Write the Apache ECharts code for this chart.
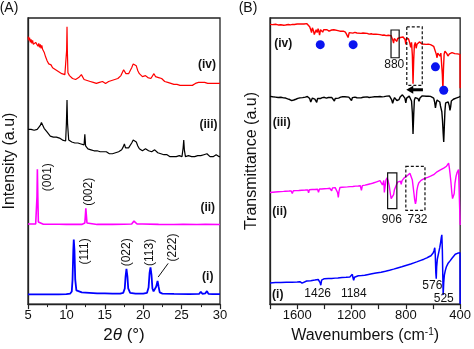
<!DOCTYPE html>
<html><head><meta charset="utf-8">
<script src="https://cdn.jsdelivr.net/npm/echarts@6/dist/echarts.min.js"></script>
<style>html,body{margin:0;padding:0;background:#fff}#c{width:474px;height:349px}</style>
</head><body><div id="c"></div>
<script>
const FONT = 'Arial, "Liberation Sans", sans-serif';

// ---------- Panel A: XRD (2theta in degrees, intensity a.u.) ----------
const xrdTicks = [5, 10, 15, 20, 25, 30];
const xrdIV = [[5.0,274],[5.1,270],[5.2,273],[5.3,268],[5.4,271],[5.5,267],[5.6,270],[5.7,266],[5.8,268],[5.9,265],[6.0,268],[6.1,266],[6.2,268],[6.3,264],[6.4,267],[6.5,263],[6.6,266],[6.7,262],[6.8,265],[6.9,261],[7.0,262],[7.1,258],[7.2,256],[7.3,253],[7.4,252],[7.5,249],[7.6,249],[7.7,246],[7.8,247],[7.9,244],[8.0,245],[8.2,242],[8.4,243],[8.6,240],[8.8,240],[9.0,238],[9.2,239],[9.4,236],[9.6,237],[9.8,235],[9.95,236],[10.03,260],[10.08,284],[10.13,258],[10.2,237],[10.4,234],[10.6,233],[10.8,231],[11.0,232],[11.2,230],[11.4,231],[11.6,232],[11.8,234],[11.95,235],[12.1,233],[12.3,230],[12.5,231],[12.7,229],[12.9,230],[13.1,228],[13.3,229],[13.5,227],[13.7,228],[13.9,226],[14.1,228],[14.3,227],[14.5,226],[14.7,228],[14.9,227],[15.1,226],[15.3,228],[15.5,228],[15.7,227],[15.9,229],[16.1,228],[16.3,230],[16.5,229],[16.7,231],[16.9,232],[17.1,234],[17.3,236],[17.45,240],[17.6,242],[17.75,236],[17.9,234],[18.1,236],[18.3,239],[18.5,242],[18.7,246],[18.9,248],[19.1,244],[19.3,239],[19.5,236],[19.7,234],[19.9,233],[20.1,232],[20.3,234],[20.45,235],[20.6,232],[20.8,230],[21.0,231],[21.2,233],[21.4,236],[21.6,233],[21.8,231],[22.0,232],[22.2,233],[22.4,231],[22.6,229],[22.8,228],[23.0,229],[23.2,227],[23.4,228],[23.6,226],[23.8,227],[24.0,225],[24.2,226],[24.4,225],[24.6,226],[24.8,224],[25.0,225],[25.2,224],[25.4,226],[25.6,224],[25.8,225],[26.0,224],[26.2,225],[26.4,224],[26.6,225],[26.8,226],[27.0,227],[27.2,227],[27.4,226],[27.6,227],[27.8,226],[28.0,227],[28.2,225],[28.4,226],[28.6,225],[28.8,226],[29.0,225],[29.2,226],[29.4,225],[29.6,226],[29.8,225],[30.0,226]];
const xrdIII = [[5.0,179],[5.2,178],[5.4,179],[5.6,177],[5.8,178],[6.0,178],[6.2,179],[6.4,181],[6.6,183],[6.75,186],[6.9,184],[7.1,180],[7.3,178],[7.5,176],[7.7,174],[7.9,172],[8.1,171],[8.3,171],[8.5,170],[8.7,171],[8.9,169],[9.1,170],[9.3,169],[9.5,168],[9.7,168],[9.9,167],[10.0,185],[10.08,209],[10.15,185],[10.3,168],[10.5,167],[10.7,166],[10.9,167],[11.1,165],[11.3,166],[11.5,165],[11.7,165],[11.9,164],[12.1,164],[12.3,163],[12.4,174],[12.5,162],[12.6,160],[12.8,159],[13.0,158],[13.2,158],[13.4,157],[13.6,157],[13.8,156],[14.0,157],[14.2,155],[14.4,156],[14.6,155],[14.8,156],[15.0,155],[15.2,156],[15.4,155],[15.6,154],[15.8,155],[16.0,154],[16.2,154],[16.4,155],[16.6,155],[16.8,156],[17.0,157],[17.2,158],[17.4,161],[17.55,164],[17.7,160],[17.9,158],[18.1,160],[18.3,162],[18.5,165],[18.7,168],[18.9,170],[19.1,166],[19.3,162],[19.5,159],[19.7,158],[19.9,157],[20.1,158],[20.3,159],[20.5,160],[20.7,157],[20.9,155],[21.1,156],[21.3,157],[21.5,158],[21.7,156],[21.9,155],[22.1,155],[22.3,154],[22.5,153],[22.7,153],[22.9,152],[23.1,153],[23.3,152],[23.5,151],[23.7,152],[23.9,151],[24.1,152],[24.3,151],[24.5,151],[24.7,152],[24.9,151],[25.05,151],[25.2,160],[25.28,168],[25.36,158],[25.5,151],[25.7,151],[25.9,152],[26.1,151],[26.3,151],[26.5,152],[26.7,151],[26.9,151],[27.1,152],[27.3,151],[27.5,152],[27.7,151],[27.9,153],[28.1,155],[28.3,154],[28.5,152],[28.7,151],[28.9,152],[29.1,151],[29.3,152],[29.5,153],[29.7,153],[29.9,151],[30.0,151]];
const xrdII = [[5.0,82],[5.5,82],[6.0,82],[6.1,84],[6.17,110],[6.22,138],[6.28,110],[6.35,84],[6.5,82],[7.0,81.7],[8,81.8],[9,81.7],[10,81.6],[11,81.7],[12,81.6],[12.4,83],[12.48,92],[12.53,98],[12.6,91],[12.68,83],[12.8,81.7],[14,81.6],[16,81.6],[17.5,81.7],[18.5,82],[18.8,85],[18.9,87],[19.0,84],[19.2,82],[19.9,82],[20.0,83.3],[20.1,82],[22,81.6],[24,81.5],[25.2,81.6],[25.3,82.8],[25.4,81.6],[27,81.5],[28.1,81.6],[28.2,82.5],[28.3,81.6],[30,81.5]];
const xrdI = [[5.0,10],[6,10],[7,10],[8,10],[9,10],[10,10.2],[10.5,10.8],[10.7,13],[10.8,25],[10.9,55],[10.96,66],[11.05,55],[11.15,25],[11.3,14],[11.5,12.5],[12,12],[13,11.5],[14,11],[15,11],[16,10.8],[17,10.8],[17.4,11.5],[17.6,16],[17.7,28],[17.82,36],[17.95,28],[18.05,16],[18.3,11.5],[19,10.7],[20,10.7],[20.5,11.5],[20.7,17],[20.83,32],[20.95,37.7],[21.08,30],[21.2,16],[21.35,13],[21.55,13],[21.7,18],[21.87,23.7],[22.0,18],[22.15,12],[22.5,10.8],[24,10.5],[26,10.3],[27.3,10.5],[27.5,12.7],[27.7,10.5],[28.1,11],[28.3,13.3],[28.5,10.5],[29,10.3],[30,10.3]];

// ---------- Panel B: FTIR (wavenumber cm-1, transmittance a.u.) ----------
const irTicks = [1600, 1200, 800, 400];
const irIV = [[1800,286.5],[1780,286.2],[1760,286.6],[1740,285.9],[1720,286.1],[1700,285.6],[1685,285.8],[1665,286.3],[1650,286],[1635,286.5],[1620,286.3],[1600,286.8],[1588,286.6],[1570,287],[1550,286.8],[1530,287.3],[1516,287.2],[1508,284],[1500,281],[1494,278],[1488,283],[1480,280],[1474,276],[1467,274],[1460,281],[1453,278],[1446,282],[1440,279],[1435,275.5],[1428,281],[1420,282],[1412,278.5],[1405,281],[1395,280],[1380,281],[1365,279.5],[1346,280.7],[1330,281],[1320,279],[1300,280],[1285,279.5],[1273,279],[1260,279.5],[1245,278.5],[1235,276],[1225,273],[1217,278],[1205,278.5],[1190,277.5],[1175,278.2],[1160,277.6],[1150,278],[1130,277.2],[1115,277.6],[1103,277],[1085,277.3],[1070,276.5],[1055,276.9],[1040,276.3],[1020,276.5],[1006,275.7],[990,276],[975,275.4],[960,275.6],[945,275],[930,275.3],[918,274.8],[909,275],[900,273],[895,270],[890,267.3],[885,272],[878,274],[872,273],[866,269],[860,272],[852,273.5],[840,273],[830,273.8],[820,273.5],[812,274],[806,271],[800,266],[795,272.5],[787,273],[780,271.5],[772,268],[764,263],[758,268],[752,255],[747,225.7],[742,250],[737,265],[730,268],[724,262],[718,266],[710,268],[700,268.5],[690,267],[679,266.3],[665,266.5],[650,266],[635,266.2],[618,265.7],[605,265],[595,264],[588,262.3],[582,262],[576,256],[570,252.3],[565,257],[560,258],[553,257],[548,254],[542,257],[537,255],[531,235],[527,219],[523,240],[518,256],[512,259],[505,257.5],[498,256.5],[490,254],[485,252.3],[479,256.3],[470,257],[460,257.5],[450,257.3],[440,256.5],[430,256],[420,256.3],[410,255.8],[401,255.7],[400,221]];
const irIII = [[1800,212.7],[1780,212.3],[1760,212],[1740,211.6],[1720,211.8],[1700,211.2],[1685,211],[1670,210.2],[1655,209.5],[1640,208.3],[1625,209],[1610,209.8],[1595,210.7],[1580,211.2],[1560,211.5],[1540,212],[1525,212.6],[1516,212.7],[1508,210.5],[1500,207],[1494,206],[1488,211],[1480,211.5],[1470,210],[1462,209],[1456,206.5],[1450,210.5],[1440,211.3],[1430,210.5],[1415,211.5],[1400,211.8],[1385,211],[1370,211.6],[1346,211.7],[1333,211],[1326,208],[1320,210.5],[1312,211.5],[1295,211],[1280,212],[1265,212.4],[1249,212.3],[1235,211.8],[1220,212],[1207,210.5],[1200,208.5],[1193,211.5],[1175,212],[1160,211.3],[1150,211.8],[1130,211.2],[1115,211.8],[1103,211.7],[1085,212.2],[1070,211.6],[1050,212],[1030,212.4],[1006,212.3],[990,212.6],[975,212.2],[960,212.5],[940,213],[921,213.3],[912,212],[905,209.5],[897,205.7],[890,209],[883,211.5],[875,211],[866,208.5],[858,207.7],[850,209.5],[842,212],[833,213.5],[825,214.3],[815,213.5],[807,211],[800,206],[794,211],[785,212.5],[775,213],[765,212],[758,208],[752,196],[747,174.3],[742,194],[737,209],[730,211.5],[720,212],[711,210.5],[703,207.7],[696,211],[688,212.5],[679,213.3],[665,213],[650,212.8],[635,213],[618,212.7],[605,212],[595,211],[588,207],[582,201],[576,206],[570,209],[558,209.3],[550,207],[545,203],[541,201],[535,197],[530,188],[525,175],[521,166],[517,180],[512,198],[507,206],[502,207.7],[495,208],[488,207],[480,203],[475,198.5],[470,202],[465,208],[458,209.5],[450,209.8],[440,210.5],[430,211],[420,211.5],[410,212],[400,212.7]];
const irII = [[1800,114.3],[1780,114.6],[1760,114.8],[1740,115],[1720,115.2],[1700,115.4],[1685,115.6],[1660,115.8],[1645,116],[1636,113.2],[1628,116.1],[1610,116.2],[1588,116.3],[1565,116.6],[1540,116.8],[1522,117],[1516,114],[1510,117.1],[1490,117.3],[1470,117.4],[1450,117.6],[1443,114.5],[1436,117.8],[1420,117.9],[1400,118.1],[1380,118.3],[1360,118.6],[1350,118.8],[1346,116],[1340,119],[1320,119.3],[1308,119.4],[1302,114],[1297,109.3],[1292,115.5],[1285,119.4],[1270,119.6],[1250,119.8],[1230,120],[1210,120.3],[1190,120.5],[1170,120.8],[1150,121],[1135,121.2],[1127,116.5],[1120,121.3],[1100,121.8],[1080,122.5],[1060,123.2],[1040,124],[1020,125],[1006,126],[990,126.4],[978,127],[972,122],[968,124],[962,126.5],[958,114.3],[953,120],[946,127],[938,129.3],[930,126],[922,121],[915,114],[908,108],[903,106],[897,107],[890,112],[884,117],[877,119.5],[870,122],[860,125],[849,126.8],[840,126],[834,122.7],[828,126.5],[820,128.5],[812,129.3],[800,130.5],[790,131.5],[778,133],[770,134],[764,134.3],[758,132],[752,127],[746,120],[740,113],[735,107],[729,102.7],[724,106],[719,116],[712,121],[705,124],[697,125.8],[688,126.7],[679,127.7],[665,128.5],[650,129.2],[635,130],[618,131],[605,131.8],[595,132.5],[582,133.6],[570,135.5],[558,136.5],[545,137.5],[533,138.3],[521,139.3],[510,140.2],[500,141.2],[493,142.5],[485,144.3],[480,140],[474,133],[468,125],[462,115],[456,108],[449,106],[444,113],[438,124],[430,131],[422,135],[412,137.7],[401,139],[400,81]];
const irI = [[1800,21.7],[1760,22],[1720,22.2],[1680,22.4],[1640,22.5],[1600,22.7],[1580,23],[1570,23.2],[1564,21.5],[1558,23.2],[1530,23.6],[1500,24],[1470,24.6],[1445,25.2],[1436,25.6],[1431,22],[1426,19.3],[1420,24.5],[1414,26.3],[1400,26],[1370,26.2],[1346,26.3],[1320,26.6],[1300,26.8],[1270,27.2],[1240,27.5],[1212,27.8],[1200,28.5],[1194,30.5],[1189,27],[1184,24.3],[1178,27.5],[1170,29],[1150,29],[1125,29.2],[1103,29.5],[1075,30.3],[1050,31],[1020,31.8],[982,32.7],[950,33.7],[920,34.7],[890,35.8],[861,37],[830,38.2],[800,39.5],[764,41],[740,42.2],[720,43.2],[690,44.8],[667,46],[645,47.3],[630,48.5],[615,49.5],[606,50.5],[598,52.5],[592,55],[587,57.7],[583,50],[579,32],[576,26],[573,38],[568,46],[562,50],[556,54],[550,58],[544,63],[539,68],[535,71],[531,55],[528,30],[525,9.3],[521,22],[516,30],[510,34],[502,38],[490,41.5],[480,43.5],[473,44.5],[460,47],[450,49],[436,51],[420,52],[410,52.5],[401,52.7],[400,0]];
const irDots = [[1430,265.7],[1188,265.7],[582,243],[521,219]];

// annotation texts (text, x, y in data units)
const xrdSampleLabels = [['(iv)',28.3,245],['(iii)',28.5,184],['(ii)',28.4,99],['(i)',28.4,28]];
const xrdPeakLabels = [['(001)',7.57,130],['(002)',12.91,115],['(111)',12.39,54],['(022)',17.87,53],['(113)',20.87,53],['(222)',23.87,58]];
const irSampleLabels = [['(iv)',1703,266.5],['(iii)',1714,185.5],['(ii)',1729,95],['(i)',1743,10]];
const irBandLabels = [['880',885,245],['906',903,86],['732',714,86],['1426',1449,11],['1184',1183,11],['576',605,19],['525',521,5.5]];

const chart = echarts.init(document.getElementById('c'), null, {renderer:'canvas'});
const axisCol = '#222';
function xAx(g, extra){
  return Object.assign({
    gridIndex:g, type:'value',
    axisLine:{show:true, onZero:false, lineStyle:{color:axisCol, width:1.3}},
    axisTick:{show:true, length:5, lineStyle:{color:axisCol, width:1.2}},
    splitLine:{show:false},
    axisLabel:{color:'#111', fontSize:13, margin:5, fontFamily:FONT},
    nameLocation:'middle',
    nameTextStyle:{color:'#111', fontSize:16, fontFamily:FONT}
  }, extra);
}
function yAx(g, name){
  return {gridIndex:g, type:'value', min:0, max:293,
    axisLine:{show:true, lineStyle:{color:axisCol, width:1.3}},
    axisTick:{show:false}, axisLabel:{show:false}, splitLine:{show:false},
    name:name, nameLocation:'middle', nameRotate:90, nameGap:10,
    nameTextStyle:{color:'#111', fontSize:16, fontFamily:FONT}};
}
function line(g, data, color, w){
  return {type:'line', xAxisIndex:g, yAxisIndex:g, data:data, showSymbol:false, symbol:'none',
    lineStyle:{color:color, width:w}, itemStyle:{color:color}, animation:false, z:3};
}
chart.setOption({
  animation:false,
  backgroundColor:'#fff',
  textStyle:{fontFamily:FONT},
  grid:[
    {left:28, right:254, top:18, bottom:38, show:true, borderColor:axisCol, borderWidth:1.3, backgroundColor:'transparent'},
    {left:270, right:11, top:18, bottom:38, show:true, borderColor:axisCol, borderWidth:1.3, backgroundColor:'transparent'}
  ],
  xAxis:[
    xAx(0, {min:xrdTicks[0], max:xrdTicks[xrdTicks.length-1], interval:5,
      minorTick:{show:true, splitNumber:2, length:3, lineStyle:{color:axisCol}},
      name:'2{it|θ} (°)', nameGap:18,
      nameTextStyle:{color:'#111', fontSize:17, fontFamily:FONT, rich:{it:{fontStyle:'italic', fontSize:17, fontFamily:FONT, color:'#111'}}}}),
    xAx(1, {min:400, max:1800, interval:200, inverse:true,
      axisLabel:{color:'#111', fontSize:13, margin:5, fontFamily:FONT,
        formatter:function(v){ return irTicks.indexOf(v) >= 0 ? String(v) : ''; }},
      name:'Wavenumbers (cm{sup|-1})', nameGap:18,
      nameTextStyle:{color:'#111', fontSize:16, fontFamily:FONT, rich:{sup:{fontSize:10, verticalAlign:'top', padding:[0,0,8,0], fontFamily:FONT, color:'#111'}}}})
  ],
  yAxis:[ yAx(0,'Intensity (a.u)'), yAx(1,'Transmittance (a.u)') ],
  series:[
    line(0, xrdIV, '#ff0000', 1.2),
    line(0, xrdIII, '#000000', 1.2),
    line(0, xrdII, '#ff00ff', 1.6),
    line(0, xrdI, '#0000ff', 1.8),
    line(1, irIV, '#ff0000', 1.4),
    line(1, irIII, '#000000', 1.4),
    line(1, irII, '#ff00ff', 1.4),
    line(1, irI, '#0000ff', 1.5),
    {type:'scatter', xAxisIndex:1, yAxisIndex:1, data:irDots, symbolSize:9, itemStyle:{color:'#0a14f0', opacity:1}, z:5, animation:false}
  ]
});

function P(g, x, y){ return chart.convertToPixel({gridIndex:g}, [x, y]); }
const G = [];
function text(s, x, y, o){
  o = o || {};
  G.push({type:'text', x:x, y:y, rotation:o.rot||0, z:20,
    style:{text:s, fill:o.color||'#111', font:(o.bold?'bold ':'')+(o.size||12)+'px '+FONT,
      textAlign:'center', textVerticalAlign:'middle'}});
}
function rect(g, x1, y1, x2, y2, dashed){
  const a = P(g, x1, y1), b = P(g, x2, y2);
  G.push({type:'rect', z:20, shape:{x:Math.min(a[0],b[0]), y:Math.min(a[1],b[1]), width:Math.abs(b[0]-a[0]), height:Math.abs(b[1]-a[1])},
    style:{fill:null, stroke:'#111', lineWidth:1.2, lineDash: dashed ? [3,2] : null}});
}
xrdSampleLabels.forEach(function(l){ const p = P(0, l[1], l[2]); text(l[0], p[0], p[1], {bold:true, size:12}); });
xrdPeakLabels.forEach(function(l){ const p = P(0, l[1], l[2]); text(l[0], p[0], p[1], {size:12, rot:Math.PI/2}); });
irSampleLabels.forEach(function(l){ const p = P(1, l[1], l[2]); text(l[0], p[0], p[1], {bold:true, size:12}); });
irBandLabels.forEach(function(l){ const p = P(1, l[1], l[2]); text(l[0], p[0], p[1], {size:12}); });
// leader line for (222)
(function(){ const a = P(0, 23.25, 41.7), b = P(0, 21.95, 27.7);
  G.push({type:'line', z:20, shape:{x1:a[0], y1:a[1], x2:b[0], y2:b[1]}, style:{stroke:'#111', lineWidth:1}}); })();
// boxes
rect(1, 909, 280.7, 849, 252.3, false);
rect(1, 793, 284, 679, 224, true);
rect(1, 934, 134.3, 866, 97.7, false);
rect(1, 800, 141, 659, 96, true);
// arrow
(function(){ const a = P(1, 674, 219.5), b = P(1, 797, 219.5);
  G.push({type:'line', z:20, shape:{x1:a[0], y1:a[1], x2:b[0]+5, y2:b[1]}, style:{stroke:'#000', lineWidth:3}});
  G.push({type:'polygon', z:20, shape:{points:[[b[0], b[1]], [b[0]+7, b[1]-4], [b[0]+7, b[1]+4]]}, style:{fill:'#000'}}); })();
// panel letters
text('(A)', 9, 8, {size:14});
text('(B)', 248, 8, {size:14});
chart.setOption({graphic:G});
</script></body></html>
